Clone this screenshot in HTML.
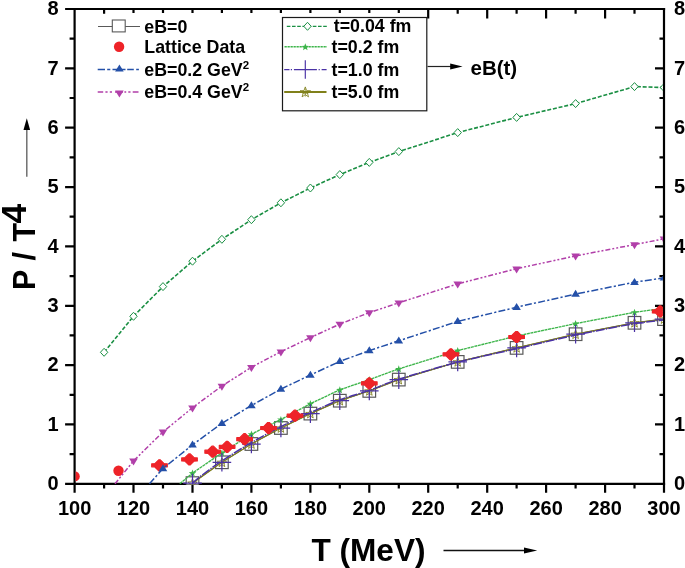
<!DOCTYPE html>
<html><head><meta charset="utf-8"><title>P/T4 vs T</title>
<style>html,body{margin:0;padding:0;background:#fff}body{width:685px;height:568px;overflow:hidden}</style></head>
<body>
<svg width="685" height="568" viewBox="0 0 685 568" style="display:block;font-family:'Liberation Sans',sans-serif;font-weight:bold">
<rect width="685" height="568" fill="#fff"/>
<defs><clipPath id="cp"><rect x="75.7" y="10.0" width="587.2" height="474.4"/></clipPath></defs>
<path d="M73.4,9.0 H665.2 M65.1,483.8 H665.2 M74.6,9.0 V492.8 M664.0,8.0 V492.8 M104.1,483.8 v4.6 M104.1,9.0 v4.7 M133.5,483.8 v9.0 M133.5,9.0 v4.0 M163.0,483.8 v4.6 M163.0,9.0 v4.0 M192.5,483.8 v9.0 M192.5,9.0 v4.0 M221.9,483.8 v4.6 M221.9,9.0 v4.0 M251.4,483.8 v9.0 M251.4,9.0 v4.0 M280.9,483.8 v4.6 M280.9,9.0 v4.0 M310.4,483.8 v9.0 M310.4,9.0 v4.0 M339.8,483.8 v4.6 M339.8,9.0 v4.0 M369.3,483.8 v9.0 M369.3,9.0 v4.0 M398.8,483.8 v4.6 M398.8,9.0 v4.0 M428.2,483.8 v9.0 M428.2,9.0 v9.6 M457.7,483.8 v4.6 M457.7,9.0 v4.7 M487.2,483.8 v9.0 M487.2,9.0 v9.6 M516.6,483.8 v4.6 M516.6,9.0 v4.7 M546.1,483.8 v9.0 M546.1,9.0 v9.6 M575.6,483.8 v4.6 M575.6,9.0 v4.7 M605.1,483.8 v9.0 M605.1,9.0 v9.6 M634.5,483.8 v4.6 M634.5,9.0 v4.7 M74.6,454.1 h-5.0 M74.6,424.4 h-9.5 M74.6,394.8 h-5.0 M74.6,365.1 h-9.5 M74.6,335.4 h-5.0 M74.6,305.8 h-9.5 M74.6,276.1 h-5.0 M74.6,246.4 h-9.5 M74.6,216.7 h-5.0 M74.6,187.1 h-9.5 M74.6,157.4 h-5.0 M74.6,127.7 h-9.5 M74.6,98.0 h-5.0 M74.6,68.4 h-9.5 M74.6,38.7 h-5.0 M74.6,9.0 h-9.5 M664.0,454.1 h-4.5 M664.0,424.4 h-9.0 M664.0,394.8 h-4.5 M664.0,365.1 h-9.0 M664.0,335.4 h-4.5 M664.0,305.8 h-9.0 M664.0,276.1 h-4.5 M664.0,246.4 h-9.0 M664.0,216.7 h-4.5 M664.0,187.1 h-9.0 M664.0,157.4 h-4.5 M664.0,127.7 h-9.0 M664.0,98.0 h-4.5 M664.0,68.4 h-9.0 M664.0,38.7 h-4.5" stroke="#000" stroke-width="2.2" fill="none"/>
<g clip-path="url(#cp)">
<polyline points="192.5,483.1 221.9,462.3 251.4,444.0 280.9,428.0 310.4,413.6 339.8,400.7 369.3,390.9 398.8,379.6 457.7,361.9 516.6,347.9 575.6,334.2 634.5,322.8 664.0,319.1" fill="none" stroke="#595959" stroke-width="1"/>
<rect x="186.2" y="476.8" width="12.6" height="12.6" fill="#fff" stroke="#595959" stroke-width="1.2"/>
<rect x="215.6" y="456.0" width="12.6" height="12.6" fill="#fff" stroke="#595959" stroke-width="1.2"/>
<rect x="245.1" y="437.7" width="12.6" height="12.6" fill="#fff" stroke="#595959" stroke-width="1.2"/>
<rect x="274.6" y="421.7" width="12.6" height="12.6" fill="#fff" stroke="#595959" stroke-width="1.2"/>
<rect x="304.1" y="407.3" width="12.6" height="12.6" fill="#fff" stroke="#595959" stroke-width="1.2"/>
<rect x="333.5" y="394.4" width="12.6" height="12.6" fill="#fff" stroke="#595959" stroke-width="1.2"/>
<rect x="363.0" y="384.6" width="12.6" height="12.6" fill="#fff" stroke="#595959" stroke-width="1.2"/>
<rect x="392.5" y="373.3" width="12.6" height="12.6" fill="#fff" stroke="#595959" stroke-width="1.2"/>
<rect x="451.4" y="355.6" width="12.6" height="12.6" fill="#fff" stroke="#595959" stroke-width="1.2"/>
<rect x="510.3" y="341.6" width="12.6" height="12.6" fill="#fff" stroke="#595959" stroke-width="1.2"/>
<rect x="569.3" y="327.9" width="12.6" height="12.6" fill="#fff" stroke="#595959" stroke-width="1.2"/>
<rect x="628.2" y="316.5" width="12.6" height="12.6" fill="#fff" stroke="#595959" stroke-width="1.2"/>
<rect x="657.7" y="312.8" width="12.6" height="12.6" fill="#fff" stroke="#595959" stroke-width="1.2"/>
<polyline points="104.1,352.3 133.5,316.3 163.0,286.6 192.5,261.2 221.9,239.3 251.4,219.7 280.9,202.8 310.4,188.0 339.8,174.6 369.3,162.4 398.8,151.6 457.7,132.6 516.6,117.4 575.6,103.6 634.5,86.6 664.0,87.5" fill="none" stroke="#1a8f43" stroke-width="1.6" stroke-dasharray="4,1.8"/>
<path d="M104.1,348.3 l3.7,4 l-3.7,4 l-3.7,-4z" fill="#fff" stroke="#1a8f43" stroke-width="1"/>
<path d="M133.5,312.3 l3.7,4 l-3.7,4 l-3.7,-4z" fill="#fff" stroke="#1a8f43" stroke-width="1"/>
<path d="M163.0,282.6 l3.7,4 l-3.7,4 l-3.7,-4z" fill="#fff" stroke="#1a8f43" stroke-width="1"/>
<path d="M192.5,257.2 l3.7,4 l-3.7,4 l-3.7,-4z" fill="#fff" stroke="#1a8f43" stroke-width="1"/>
<path d="M221.9,235.3 l3.7,4 l-3.7,4 l-3.7,-4z" fill="#fff" stroke="#1a8f43" stroke-width="1"/>
<path d="M251.4,215.7 l3.7,4 l-3.7,4 l-3.7,-4z" fill="#fff" stroke="#1a8f43" stroke-width="1"/>
<path d="M280.9,198.8 l3.7,4 l-3.7,4 l-3.7,-4z" fill="#fff" stroke="#1a8f43" stroke-width="1"/>
<path d="M310.4,184.0 l3.7,4 l-3.7,4 l-3.7,-4z" fill="#fff" stroke="#1a8f43" stroke-width="1"/>
<path d="M339.8,170.6 l3.7,4 l-3.7,4 l-3.7,-4z" fill="#fff" stroke="#1a8f43" stroke-width="1"/>
<path d="M369.3,158.4 l3.7,4 l-3.7,4 l-3.7,-4z" fill="#fff" stroke="#1a8f43" stroke-width="1"/>
<path d="M398.8,147.6 l3.7,4 l-3.7,4 l-3.7,-4z" fill="#fff" stroke="#1a8f43" stroke-width="1"/>
<path d="M457.7,128.6 l3.7,4 l-3.7,4 l-3.7,-4z" fill="#fff" stroke="#1a8f43" stroke-width="1"/>
<path d="M516.6,113.4 l3.7,4 l-3.7,4 l-3.7,-4z" fill="#fff" stroke="#1a8f43" stroke-width="1"/>
<path d="M575.6,99.6 l3.7,4 l-3.7,4 l-3.7,-4z" fill="#fff" stroke="#1a8f43" stroke-width="1"/>
<path d="M634.5,82.6 l3.7,4 l-3.7,4 l-3.7,-4z" fill="#fff" stroke="#1a8f43" stroke-width="1"/>
<path d="M664.0,83.5 l3.7,4 l-3.7,4 l-3.7,-4z" fill="#fff" stroke="#1a8f43" stroke-width="1"/>
<polyline points="179.8,483.8 192.5,473.1 221.9,452.9 251.4,434.1 280.9,419.5 310.4,403.7 339.8,389.8 369.3,379.6 398.8,368.9 457.7,350.6 516.6,336.0 575.6,323.6 634.5,312.3 664.0,308.3" fill="none" stroke="#3db54a" stroke-width="1.35" stroke-dasharray="3,0.6"/>
<path d="M192.48,469.52 L193.42,472.12 L196.19,472.21 L194.00,473.91 L194.77,476.57 L192.48,475.02 L190.19,476.57 L190.96,473.91 L188.77,472.21 L191.54,472.12Z" fill="#3db54a"/>
<path d="M221.95,449.34 L222.89,451.94 L225.66,452.03 L223.47,453.73 L224.24,456.39 L221.95,454.84 L219.66,456.39 L220.43,453.73 L218.24,452.03 L221.01,451.94Z" fill="#3db54a"/>
<path d="M251.42,430.52 L252.36,433.13 L255.13,433.22 L252.94,434.92 L253.71,437.58 L251.42,436.02 L249.13,437.58 L249.90,434.92 L247.71,433.22 L250.48,433.13Z" fill="#3db54a"/>
<path d="M280.89,415.92 L281.83,418.53 L284.60,418.62 L282.41,420.32 L283.18,422.98 L280.89,421.42 L278.60,422.98 L279.37,420.32 L277.18,418.62 L279.95,418.53Z" fill="#3db54a"/>
<path d="M310.36,400.08 L311.30,402.68 L314.07,402.77 L311.88,404.47 L312.65,407.13 L310.36,405.58 L308.07,407.13 L308.84,404.47 L306.65,402.77 L309.42,402.68Z" fill="#3db54a"/>
<path d="M339.83,386.25 L340.77,388.85 L343.54,388.94 L341.35,390.64 L342.12,393.30 L339.83,391.75 L337.54,393.30 L338.31,390.64 L336.12,388.94 L338.89,388.85Z" fill="#3db54a"/>
<path d="M369.30,376.04 L370.24,378.65 L373.01,378.74 L370.82,380.44 L371.59,383.10 L369.30,381.54 L367.01,383.10 L367.78,380.44 L365.59,378.74 L368.36,378.65Z" fill="#3db54a"/>
<path d="M398.77,365.30 L399.71,367.90 L402.48,367.99 L400.29,369.69 L401.06,372.35 L398.77,370.80 L396.48,372.35 L397.25,369.69 L395.06,367.99 L397.83,367.90Z" fill="#3db54a"/>
<path d="M457.71,347.02 L458.65,349.62 L461.42,349.71 L459.23,351.41 L460.00,354.07 L457.71,352.52 L455.42,354.07 L456.19,351.41 L454.00,349.71 L456.77,349.62Z" fill="#3db54a"/>
<path d="M516.65,332.42 L517.59,335.02 L520.36,335.11 L518.17,336.81 L518.94,339.47 L516.65,337.92 L514.36,339.47 L515.13,336.81 L512.94,335.11 L515.71,335.02Z" fill="#3db54a"/>
<path d="M575.59,319.96 L576.53,322.56 L579.30,322.65 L577.11,324.35 L577.88,327.01 L575.59,325.46 L573.30,327.01 L574.07,324.35 L571.88,322.65 L574.65,322.56Z" fill="#3db54a"/>
<path d="M634.53,308.68 L635.47,311.28 L638.24,311.37 L636.05,313.07 L636.82,315.73 L634.53,314.18 L632.24,315.73 L633.01,313.07 L630.82,311.37 L633.59,311.28Z" fill="#3db54a"/>
<path d="M664.00,304.70 L664.94,307.31 L667.71,307.40 L665.52,309.10 L666.29,311.76 L664.00,310.20 L661.71,311.76 L662.48,309.10 L660.29,307.40 L663.06,307.31Z" fill="#3db54a"/>
<polyline points="192.5,483.1 221.9,462.3 251.4,444.0 280.9,428.0 310.4,413.6 339.8,400.7 369.3,390.9 398.8,379.6 457.7,361.9 516.6,347.9 575.6,334.2 634.5,322.8 664.0,319.1" fill="none" stroke="#80801a" stroke-width="1.35"/>
<path d="M192.48,478.59 L193.66,481.86 L197.14,481.97 L194.39,484.11 L195.36,487.45 L192.48,485.50 L189.60,487.45 L190.57,484.11 L187.82,481.97 L191.30,481.86Z" fill="none" stroke="#80801a" stroke-width="0.85"/><path d="M192.5,479.7 v8 M189.9,484.4 h5.6" stroke="#80801a" stroke-width="0.7" fill="none"/>
<path d="M221.95,457.82 L223.13,461.09 L226.61,461.20 L223.86,463.34 L224.83,466.68 L221.95,464.72 L219.07,466.68 L220.04,463.34 L217.29,461.20 L220.77,461.09Z" fill="none" stroke="#80801a" stroke-width="0.85"/><path d="M221.9,458.9 v8 M219.3,463.6 h5.6" stroke="#80801a" stroke-width="0.7" fill="none"/>
<path d="M251.42,439.54 L252.60,442.81 L256.08,442.92 L253.33,445.06 L254.30,448.40 L251.42,446.44 L248.54,448.40 L249.51,445.06 L246.76,442.92 L250.24,442.81Z" fill="none" stroke="#80801a" stroke-width="0.85"/><path d="M251.4,440.6 v8 M248.8,445.3 h5.6" stroke="#80801a" stroke-width="0.7" fill="none"/>
<path d="M280.89,423.51 L282.07,426.79 L285.55,426.90 L282.80,429.03 L283.77,432.38 L280.89,430.42 L278.01,432.38 L278.98,429.03 L276.23,426.90 L279.71,426.79Z" fill="none" stroke="#80801a" stroke-width="0.85"/><path d="M280.9,424.6 v8 M278.3,429.3 h5.6" stroke="#80801a" stroke-width="0.7" fill="none"/>
<path d="M310.36,409.09 L311.54,412.36 L315.02,412.47 L312.27,414.61 L313.24,417.95 L310.36,416.00 L307.48,417.95 L308.45,414.61 L305.70,412.47 L309.18,412.36Z" fill="none" stroke="#80801a" stroke-width="0.85"/><path d="M310.4,410.2 v8 M307.8,414.9 h5.6" stroke="#80801a" stroke-width="0.7" fill="none"/>
<path d="M339.83,396.21 L341.01,399.48 L344.49,399.60 L341.74,401.73 L342.71,405.07 L339.83,403.12 L336.95,405.07 L337.92,401.73 L335.17,399.60 L338.65,399.48Z" fill="none" stroke="#80801a" stroke-width="0.85"/><path d="M339.8,397.3 v8 M337.2,402.0 h5.6" stroke="#80801a" stroke-width="0.7" fill="none"/>
<path d="M369.30,386.42 L370.48,389.69 L373.96,389.80 L371.21,391.94 L372.18,395.28 L369.30,393.33 L366.42,395.28 L367.39,391.94 L364.64,389.80 L368.12,389.69Z" fill="none" stroke="#80801a" stroke-width="0.85"/><path d="M369.3,387.5 v8 M366.7,392.2 h5.6" stroke="#80801a" stroke-width="0.7" fill="none"/>
<path d="M398.77,375.14 L399.95,378.42 L403.43,378.53 L400.68,380.66 L401.65,384.00 L398.77,382.05 L395.89,384.00 L396.86,380.66 L394.11,378.53 L397.59,378.42Z" fill="none" stroke="#80801a" stroke-width="0.85"/><path d="M398.8,376.2 v8 M396.2,380.9 h5.6" stroke="#80801a" stroke-width="0.7" fill="none"/>
<path d="M457.71,357.40 L458.89,360.67 L462.37,360.78 L459.62,362.92 L460.59,366.26 L457.71,364.30 L454.83,366.26 L455.80,362.92 L453.05,360.78 L456.53,360.67Z" fill="none" stroke="#80801a" stroke-width="0.85"/><path d="M457.7,358.5 v8 M455.1,363.2 h5.6" stroke="#80801a" stroke-width="0.7" fill="none"/>
<path d="M516.65,343.39 L517.83,346.66 L521.31,346.77 L518.56,348.91 L519.53,352.25 L516.65,350.30 L513.77,352.25 L514.74,348.91 L511.99,346.77 L515.47,346.66Z" fill="none" stroke="#80801a" stroke-width="0.85"/><path d="M516.6,344.5 v8 M514.0,349.2 h5.6" stroke="#80801a" stroke-width="0.7" fill="none"/>
<path d="M575.59,329.74 L576.77,333.01 L580.25,333.12 L577.50,335.26 L578.47,338.60 L575.59,336.65 L572.71,338.60 L573.68,335.26 L570.93,333.12 L574.41,333.01Z" fill="none" stroke="#80801a" stroke-width="0.85"/><path d="M575.6,330.8 v8 M573.0,335.5 h5.6" stroke="#80801a" stroke-width="0.7" fill="none"/>
<path d="M634.53,318.28 L635.71,321.56 L639.19,321.67 L636.44,323.80 L637.41,327.15 L634.53,325.19 L631.65,327.15 L632.62,323.80 L629.87,321.67 L633.35,321.56Z" fill="none" stroke="#80801a" stroke-width="0.85"/><path d="M634.5,319.4 v8 M631.9,324.1 h5.6" stroke="#80801a" stroke-width="0.7" fill="none"/>
<path d="M664.00,314.60 L665.18,317.88 L668.66,317.99 L665.91,320.12 L666.88,323.47 L664.00,321.51 L661.12,323.47 L662.09,320.12 L659.34,317.99 L662.82,317.88Z" fill="none" stroke="#80801a" stroke-width="0.85"/><path d="M664.0,315.7 v8 M661.4,320.4 h5.6" stroke="#80801a" stroke-width="0.7" fill="none"/>
<path d="M192.5,483.1 C194.0,481.8 196.4,479.4 201.3,475.7 C206.2,472.0 213.6,466.4 221.9,460.9 C230.3,455.4 241.6,448.3 251.4,442.6 C261.2,436.9 271.1,431.7 280.9,426.7 C290.7,421.7 300.5,417.1 310.4,412.6 C320.2,408.1 330.0,403.6 339.8,399.9 C349.7,396.2 359.5,393.8 369.3,390.4 C379.1,387.0 384.0,384.0 398.8,379.3 C413.5,374.6 438.1,367.3 457.7,362.2 C477.4,357.1 497.0,353.2 516.6,348.7 C536.3,344.2 555.9,339.3 575.6,335.1 C595.2,331.0 619.8,326.2 634.5,323.7 C649.3,321.2 659.1,320.6 664.0,320.0" fill="none" stroke="#4a32a5" stroke-width="1.5" stroke-dasharray="9,1.2,1.4,1.2"/>
<path d="M192.5,473.8 v18.6 M183.2,483.1 h18.6" stroke="#4a32a5" stroke-width="1.25" fill="none"/>
<path d="M221.9,453.0 v18.6 M212.6,462.3 h18.6" stroke="#4a32a5" stroke-width="1.25" fill="none"/>
<path d="M251.4,434.7 v18.6 M242.1,444.0 h18.6" stroke="#4a32a5" stroke-width="1.25" fill="none"/>
<path d="M280.9,418.7 v18.6 M271.6,428.0 h18.6" stroke="#4a32a5" stroke-width="1.25" fill="none"/>
<path d="M310.4,404.3 v18.6 M301.1,413.6 h18.6" stroke="#4a32a5" stroke-width="1.25" fill="none"/>
<path d="M339.8,391.4 v18.6 M330.5,400.7 h18.6" stroke="#4a32a5" stroke-width="1.25" fill="none"/>
<path d="M369.3,381.6 v18.6 M360.0,390.9 h18.6" stroke="#4a32a5" stroke-width="1.25" fill="none"/>
<path d="M398.8,370.3 v18.6 M389.5,379.6 h18.6" stroke="#4a32a5" stroke-width="1.25" fill="none"/>
<path d="M457.7,352.6 v18.6 M448.4,361.9 h18.6" stroke="#4a32a5" stroke-width="1.25" fill="none"/>
<path d="M516.6,338.6 v18.6 M507.3,347.9 h18.6" stroke="#4a32a5" stroke-width="1.25" fill="none"/>
<path d="M575.6,324.9 v18.6 M566.3,334.2 h18.6" stroke="#4a32a5" stroke-width="1.25" fill="none"/>
<path d="M634.5,313.5 v18.6 M625.2,322.8 h18.6" stroke="#4a32a5" stroke-width="1.25" fill="none"/>
<path d="M664.0,309.8 v18.6 M654.7,319.1 h18.6" stroke="#4a32a5" stroke-width="1.25" fill="none"/>
<circle cx="74.6" cy="476.4" r="5.2" fill="#ee2328"/>
<circle cx="118.5" cy="470.7" r="5.2" fill="#ee2328"/>
<path d="M151.7,463.8 L154.9,463.6 L158.7,459.8 L160.3,459.8 L164.1,463.6 L167.3,463.8 L167.3,466.8 L164.1,467.0 L160.3,470.8 L158.7,470.8 L154.9,467.0 L151.7,466.8Z" fill="#ee2328" stroke="#ee2328" stroke-width="1.2" stroke-linejoin="round"/>
<path d="M181.7,457.9 L184.9,457.7 L188.7,453.9 L190.3,453.9 L194.1,457.7 L197.3,457.9 L197.3,460.9 L194.1,461.1 L190.3,464.9 L188.7,464.9 L184.9,461.1 L181.7,460.9Z" fill="#ee2328" stroke="#ee2328" stroke-width="1.2" stroke-linejoin="round"/>
<path d="M204.9,450.2 L208.1,450.0 L211.9,446.2 L213.5,446.2 L217.3,450.0 L220.5,450.2 L220.5,453.2 L217.3,453.4 L213.5,457.2 L211.9,457.2 L208.1,453.4 L204.9,453.2Z" fill="#ee2328" stroke="#ee2328" stroke-width="1.2" stroke-linejoin="round"/>
<path d="M219.3,445.3 L222.5,445.1 L226.3,441.3 L227.9,441.3 L231.7,445.1 L234.9,445.3 L234.9,448.3 L231.7,448.5 L227.9,452.3 L226.3,452.3 L222.5,448.5 L219.3,448.3Z" fill="#ee2328" stroke="#ee2328" stroke-width="1.2" stroke-linejoin="round"/>
<path d="M236.8,437.7 L240.0,437.5 L243.8,433.7 L245.4,433.7 L249.2,437.5 L252.4,437.7 L252.4,440.7 L249.2,440.9 L245.4,444.7 L243.8,444.7 L240.0,440.9 L236.8,440.7Z" fill="#ee2328" stroke="#ee2328" stroke-width="1.2" stroke-linejoin="round"/>
<path d="M260.7,426.5 L263.9,426.3 L267.7,422.5 L269.3,422.5 L273.1,426.3 L276.3,426.5 L276.3,429.5 L273.1,429.7 L269.3,433.5 L267.7,433.5 L263.9,429.7 L260.7,429.5Z" fill="#ee2328" stroke="#ee2328" stroke-width="1.2" stroke-linejoin="round"/>
<path d="M287.2,414.2 L290.4,414.0 L294.2,410.2 L295.8,410.2 L299.6,414.0 L302.8,414.2 L302.8,417.2 L299.6,417.4 L295.8,421.2 L294.2,421.2 L290.4,417.4 L287.2,417.2Z" fill="#ee2328" stroke="#ee2328" stroke-width="1.2" stroke-linejoin="round"/>
<path d="M361.5,381.8 L364.7,381.6 L368.5,377.8 L370.1,377.8 L373.9,381.6 L377.1,381.8 L377.1,384.8 L373.9,385.0 L370.1,388.8 L368.5,388.8 L364.7,385.0 L361.5,384.8Z" fill="#ee2328" stroke="#ee2328" stroke-width="1.2" stroke-linejoin="round"/>
<path d="M443.1,352.8 L446.3,352.6 L450.1,348.8 L451.7,348.8 L455.5,352.6 L458.7,352.8 L458.7,355.8 L455.5,356.0 L451.7,359.8 L450.1,359.8 L446.3,356.0 L443.1,355.8Z" fill="#ee2328" stroke="#ee2328" stroke-width="1.2" stroke-linejoin="round"/>
<path d="M508.8,335.5 L512.0,335.3 L515.9,331.5 L517.4,331.5 L521.2,335.3 L524.4,335.5 L524.4,338.5 L521.2,338.7 L517.4,342.5 L515.9,342.5 L512.0,338.7 L508.8,338.5Z" fill="#ee2328" stroke="#ee2328" stroke-width="1.2" stroke-linejoin="round"/>
<path d="M652.4,309.9 L655.6,309.7 L659.4,305.9 L661.0,305.9 L664.8,309.7 L668.0,309.9 L668.0,312.9 L664.8,313.1 L661.0,316.9 L659.4,316.9 L655.6,313.1 L652.4,312.9Z" fill="#ee2328" stroke="#ee2328" stroke-width="1.2" stroke-linejoin="round"/>
<polyline points="149.5,483.8 163.0,468.5 192.5,444.8 221.9,423.3 251.4,405.5 280.9,389.1 310.4,375.0 339.8,361.4 369.3,350.6 398.8,340.8 457.7,321.4 516.6,307.2 575.6,294.1 634.5,282.2 664.0,277.9" fill="none" stroke="#2450a8" stroke-width="1.5" stroke-dasharray="7,2.2,2.2,2.2"/>
<path d="M163.0,464.2 l4.3,7 h-8.6z" fill="#2450a8"/>
<path d="M192.5,440.5 l4.3,7 h-8.6z" fill="#2450a8"/>
<path d="M221.9,419.0 l4.3,7 h-8.6z" fill="#2450a8"/>
<path d="M251.4,401.2 l4.3,7 h-8.6z" fill="#2450a8"/>
<path d="M280.9,384.8 l4.3,7 h-8.6z" fill="#2450a8"/>
<path d="M310.4,370.7 l4.3,7 h-8.6z" fill="#2450a8"/>
<path d="M339.8,357.1 l4.3,7 h-8.6z" fill="#2450a8"/>
<path d="M369.3,346.3 l4.3,7 h-8.6z" fill="#2450a8"/>
<path d="M398.8,336.5 l4.3,7 h-8.6z" fill="#2450a8"/>
<path d="M457.7,317.1 l4.3,7 h-8.6z" fill="#2450a8"/>
<path d="M516.6,302.9 l4.3,7 h-8.6z" fill="#2450a8"/>
<path d="M575.6,289.8 l4.3,7 h-8.6z" fill="#2450a8"/>
<path d="M634.5,277.9 l4.3,7 h-8.6z" fill="#2450a8"/>
<path d="M664.0,273.6 l4.3,7 h-8.6z" fill="#2450a8"/>
<polyline points="115.0,483.8 133.5,460.9 163.0,431.9 192.5,407.7 221.9,386.0 251.4,367.2 280.9,351.7 310.4,337.6 339.8,324.1 369.3,312.6 398.8,302.8 457.7,283.9 516.6,268.7 575.6,255.9 634.5,244.6 664.0,238.8" fill="none" stroke="#b13fa9" stroke-width="1.5" stroke-dasharray="5,2,2,2,2,2"/>
<path d="M133.5,465.6 l-4.3,-7 h8.6z" fill="#b13fa9"/>
<path d="M163.0,436.6 l-4.3,-7 h8.6z" fill="#b13fa9"/>
<path d="M192.5,412.4 l-4.3,-7 h8.6z" fill="#b13fa9"/>
<path d="M221.9,390.7 l-4.3,-7 h8.6z" fill="#b13fa9"/>
<path d="M251.4,371.9 l-4.3,-7 h8.6z" fill="#b13fa9"/>
<path d="M280.9,356.4 l-4.3,-7 h8.6z" fill="#b13fa9"/>
<path d="M310.4,342.3 l-4.3,-7 h8.6z" fill="#b13fa9"/>
<path d="M339.8,328.8 l-4.3,-7 h8.6z" fill="#b13fa9"/>
<path d="M369.3,317.3 l-4.3,-7 h8.6z" fill="#b13fa9"/>
<path d="M398.8,307.5 l-4.3,-7 h8.6z" fill="#b13fa9"/>
<path d="M457.7,288.6 l-4.3,-7 h8.6z" fill="#b13fa9"/>
<path d="M516.6,273.4 l-4.3,-7 h8.6z" fill="#b13fa9"/>
<path d="M575.6,260.6 l-4.3,-7 h8.6z" fill="#b13fa9"/>
<path d="M634.5,249.3 l-4.3,-7 h8.6z" fill="#b13fa9"/>
<path d="M664.0,243.5 l-4.3,-7 h8.6z" fill="#b13fa9"/>
</g>
<rect x="282.5" y="17.5" width="144.3" height="93.3" fill="#fff" stroke="#1a1a1a" stroke-width="1.2"/>
<text x="74.6" y="515" font-size="20" text-anchor="middle">100</text>
<text x="133.5" y="515" font-size="20" text-anchor="middle">120</text>
<text x="192.5" y="515" font-size="20" text-anchor="middle">140</text>
<text x="251.4" y="515" font-size="20" text-anchor="middle">160</text>
<text x="310.4" y="515" font-size="20" text-anchor="middle">180</text>
<text x="369.3" y="515" font-size="20" text-anchor="middle">200</text>
<text x="428.2" y="515" font-size="20" text-anchor="middle">220</text>
<text x="487.2" y="515" font-size="20" text-anchor="middle">240</text>
<text x="546.1" y="515" font-size="20" text-anchor="middle">260</text>
<text x="605.1" y="515" font-size="20" text-anchor="middle">280</text>
<text x="664.0" y="515" font-size="20" text-anchor="middle">300</text>
<text x="58.5" y="490.0" font-size="20" text-anchor="end">0</text>
<text x="674" y="490.0" font-size="20" text-anchor="start">0</text>
<text x="58.5" y="430.6" font-size="20" text-anchor="end">1</text>
<text x="674" y="430.6" font-size="20" text-anchor="start">1</text>
<text x="58.5" y="371.3" font-size="20" text-anchor="end">2</text>
<text x="674" y="371.3" font-size="20" text-anchor="start">2</text>
<text x="58.5" y="311.9" font-size="20" text-anchor="end">3</text>
<text x="674" y="311.9" font-size="20" text-anchor="start">3</text>
<text x="58.5" y="252.6" font-size="20" text-anchor="end">4</text>
<text x="674" y="252.6" font-size="20" text-anchor="start">4</text>
<text x="58.5" y="193.2" font-size="20" text-anchor="end">5</text>
<text x="674" y="193.2" font-size="20" text-anchor="start">5</text>
<text x="58.5" y="133.9" font-size="20" text-anchor="end">6</text>
<text x="674" y="133.9" font-size="20" text-anchor="start">6</text>
<text x="58.5" y="74.6" font-size="20" text-anchor="end">7</text>
<text x="674" y="74.6" font-size="20" text-anchor="start">7</text>
<text x="58.5" y="15.2" font-size="20" text-anchor="end">8</text>
<text x="674" y="15.2" font-size="20" text-anchor="start">8</text>
<path d="M98,26.5 H140" stroke="#595959" stroke-width="1"/>
<rect x="112.3" y="20" width="12.9" height="11.9" fill="#fff" stroke="#595959" stroke-width="1.1"/>
<circle cx="119.1" cy="46.8" r="5.2" fill="#ee2328"/>
<path d="M97.7,69.5 H105 M107.2,69.5 H110.3 M112.5,69.5 H125.5 M127.2,69.5 H133.8 M136.2,69.5 H138.9" stroke="#2450a8" stroke-width="1.5"/>
<path d="M119.4,64.6 l4.3,7 h-8.6z" fill="#2450a8"/>
<path d="M97.7,91.9 H103.2 M105.4,91.9 H107.6 M109.8,91.9 H112 M115,91.9 H123 M124.4,91.9 H126.2 M128.3,91.9 H130.5 M132.7,91.9 H138.5" stroke="#b13fa9" stroke-width="1.5"/>
<path d="M119.4,97.6 l-4.3,-7 h8.6z" fill="#b13fa9"/>
<text x="144.3" y="32.6" font-size="17.8">eB=0</text>
<text x="144.3" y="53.2" font-size="17.8">Lattice Data</text>
<text x="144.3" y="76" font-size="17.8">eB=0.2 GeV<tspan font-size="11.5" dy="-7">2</tspan></text>
<text x="144.3" y="98.4" font-size="17.8">eB=0.4 GeV<tspan font-size="11.5" dy="-7">2</tspan></text>
<path d="M286.8,26.3 H327" stroke="#1a8f43" stroke-width="1.3" stroke-dasharray="3.6,1.6"/>
<path d="M307.5,22.3 l3.7,4 l-3.7,4 l-3.7,-4z" fill="#fff" stroke="#1a8f43" stroke-width="1"/>
<path d="M284.5,46.8 H327" stroke="#3db54a" stroke-width="1.6" stroke-dasharray="2.3,0.7"/>
<path d="M305.30,43.20 L306.24,45.81 L309.01,45.89 L306.82,47.59 L307.59,50.26 L305.30,48.70 L303.01,50.26 L303.78,47.59 L301.59,45.89 L304.36,45.81Z" fill="#3db54a"/>
<path d="M284.2,69.5 h5.3 m1.3,0 h1.2 m1.9,0 h23 m1.7,0 h1.2 m1.8,0 h5" stroke="#4a32a5" stroke-width="1.25"/>
<path d="M305.3,60.2 v18.6 M296.0,69.5 h18.6" stroke="#4a32a5" stroke-width="1.15" fill="none"/>
<path d="M284.2,92 H326.5" stroke="#80801a" stroke-width="1.9"/>
<path d="M305.30,86.90 L306.63,90.58 L310.53,90.70 L307.44,93.10 L308.53,96.85 L305.30,94.66 L302.07,96.85 L303.16,93.10 L300.07,90.70 L303.97,90.58Z" fill="none" stroke="#80801a" stroke-width="0.85"/><path d="M305.3,88.6 v8 M302.7,93.3 h5.6" stroke="#80801a" stroke-width="0.7" fill="none"/>
<text x="333.8" y="32" font-size="17.8">t=0.04 fm</text>
<text x="331.5" y="53" font-size="17.8">t=0.2 fm</text>
<text x="331.5" y="75.6" font-size="17.8">t=1.0 fm</text>
<text x="331.5" y="98" font-size="17.8">t=5.0 fm</text>
<path d="M427.5,66.5 H452" stroke="#222" stroke-width="1.2"/>
<path d="M462.6,66.5 L450.2,63.5 L450.2,69.6Z" fill="#000"/>
<text x="470.5" y="74.6" font-size="20.5">eB(t)</text>
<text x="368.5" y="561" font-size="31.6" text-anchor="middle">T (MeV)</text>
<path d="M443.5,550.5 H526" stroke="#111" stroke-width="1.3"/>
<path d="M537.2,550.5 L524,547.4 L524,553.6Z" fill="#000"/>
<g transform="translate(35.2,0) rotate(-90)" font-size="30.5"><text y="0"><tspan x="-290">P </tspan><tspan x="-260.4">/ </tspan><tspan x="-241.6">T</tspan><tspan x="-223.4" dy="-9.1" font-size="35.5">4</tspan></text></g>
<path d="M26.8,176.7 V129" stroke="#666" stroke-width="1.4"/>
<path d="M26.8,118.2 L23.5,129.9 L30.1,129.9Z" fill="#000"/>
</svg>
</body></html>
